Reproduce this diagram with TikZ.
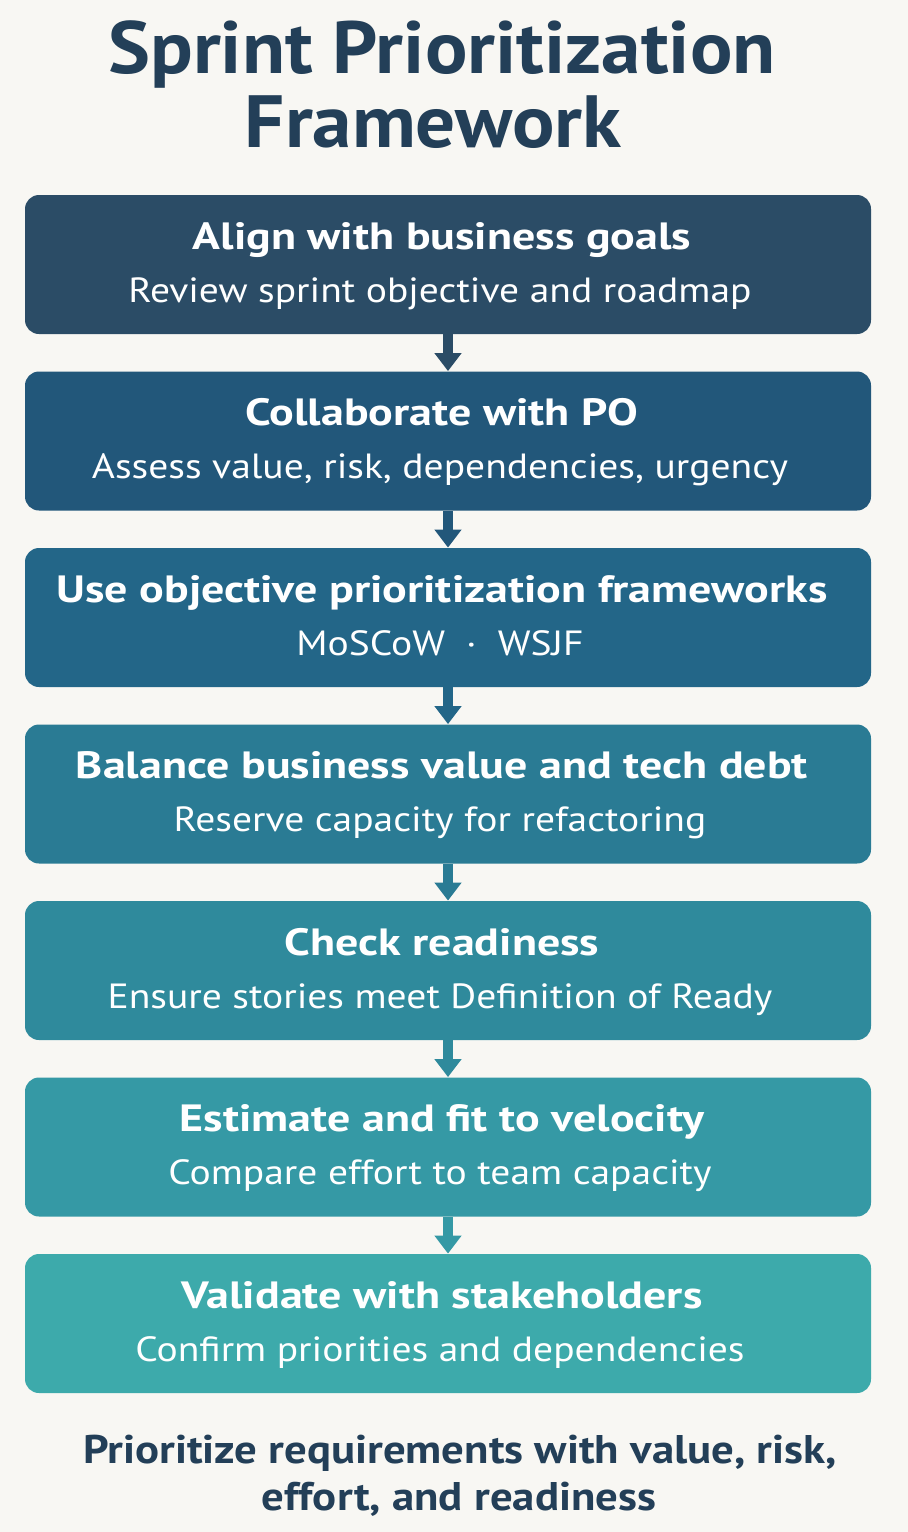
\documentclass[tikz,border=0pt]{standalone}
\usepackage{fontspec}
\setmainfont{PT Sans}
\newfontfamily\ttlfont{PT Sans}[FakeStretch=1.07]
\newfontfamily\stagefont{PT Sans}[FakeStretch=1.21]
\newfontfamily\notefont{PT Sans}[FakeStretch=1.13]
\newfontfamily\footfont{PT Sans}[FakeStretch=1.12]
\usetikzlibrary{arrows.meta}

\definecolor{paper}{HTML}{F8F7F3}
\definecolor{ink}{HTML}{233F58}
\definecolor{stageA}{HTML}{2B4C66}
\definecolor{stageB}{HTML}{22577A}
\definecolor{stageC}{HTML}{236688}
\definecolor{stageD}{HTML}{2A7B94}
\definecolor{stageE}{HTML}{2F8A9C}
\definecolor{stageF}{HTML}{3599A5}
\definecolor{stageG}{HTML}{3DAAAB}

\begin{document}
\begin{tikzpicture}[x=0.5pt,y=-0.5pt]

\tikzset{%
    stagebox/.style={rectangle,rounded corners=7pt,minimum width=423pt,minimum height=69.5pt,inner sep=0pt},
    stagehead/.style={anchor=base,text=white,inner sep=0pt,font=\stagefont\fontsize{19}{22}\selectfont\bfseries},
    stagesub/.style={anchor=base,text=white,inner sep=0pt,font=\notefont\fontsize{17.5}{21}\selectfont},
    flow/.style={-{Triangle[width=13pt,length=9pt]},line width=5pt},
    heading/.style={anchor=base,text=ink,inner sep=0pt,font=\ttlfont\fontsize{37}{40}\selectfont\bfseries},
    footer/.style={anchor=base,text=ink,inner sep=0pt,font=\footfont\fontsize{20}{23}\selectfont\bfseries},
}

%\flowstage{name}{centre y}{colour}{heading}{subtext}
\newcommand*{\flowstage}[5]{%
	\node [stagebox, fill=#3] (#1) at (448, #2) {};
	\node [stagehead] (#1head) at (442, #2-15.5) {#4};
	\node [stagesub] (#1sub) at (440, #2+37.5) {#5};
}

% background
\fill [paper] (0,0) rectangle (908,1532);

% title
\node [heading] (titletop) at (442, 73) {Sprint Prioritization};
\node [heading] (titlebot) at (433, 147) {Framework};

% stages
\flowstage{align}{264.5}{stageA}{Align with business goals}{Review sprint objective and roadmap}
\flowstage{collab}{441}{stageB}{Collaborate with PO}{Assess value, risk, dependencies, urgency}
\flowstage{frame}{617.5}{stageC}{Use objective prioritization frameworks}{MoSCoW~~\textperiodcentered~~WSJF}
\flowstage{balance}{794}{stageD}{Balance business value and tech debt}{Reserve capacity for refactoring}
\flowstage{ready}{970.5}{stageE}{Check readiness}{Ensure stories meet Definition of Ready}
\flowstage{velo}{1147}{stageF}{Estimate and fit to velocity}{Compare effort to team capacity}
\flowstage{valid}{1323.5}{stageG}{Validate with stakeholders}{Confirm priorities and dependencies}

% arrows
\draw [flow, draw=stageA] (align.south) -- (collab.north);
\draw [flow, draw=stageB] (collab.south) -- (frame.north);
\draw [flow, draw=stageC] (frame.south) -- (balance.north);
\draw [flow, draw=stageD] (balance.south) -- (ready.north);
\draw [flow, draw=stageE] (ready.south) -- (velo.north);
\draw [flow, draw=stageF] (velo.south) -- (valid.north);

% footer
\node [footer] (foottop) at (460, 1463) {Prioritize requirements with value, risk,};
\node [footer] (footbot) at (459, 1510) {effort, and readiness};

\end{tikzpicture}
\end{document}
